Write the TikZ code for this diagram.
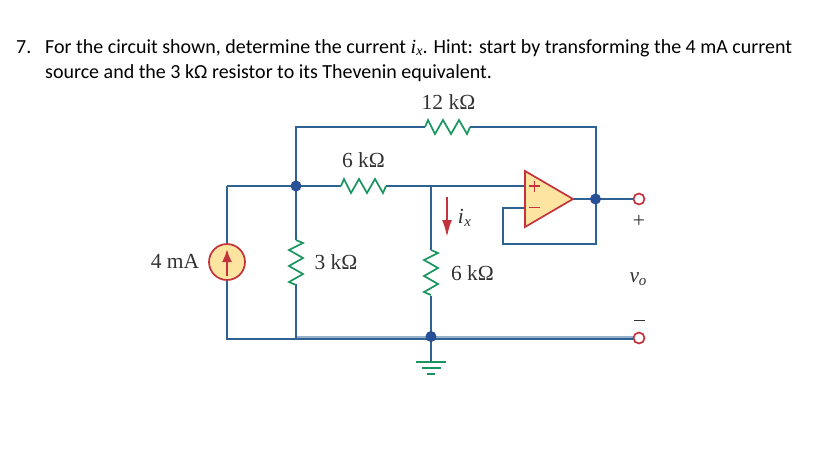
\documentclass[tikz,border=0pt]{standalone}
\usepackage{fontspec}
\setmainfont{Carlito}
\newfontfamily\lab{Liberation Serif}
\usetikzlibrary{arrows.meta}
\definecolor{wireblue}{RGB}{45,98,146}
\definecolor{dotblue}{RGB}{40,80,150}
\definecolor{resgreen}{RGB}{25,150,95}
\definecolor{redc}{RGB}{196,50,60}
\definecolor{fillc}{RGB}{253,228,160}
\definecolor{labc}{RGB}{50,50,50}
\newcommand{\hres}{-- ++(3,-7) -- ++(7,14) -- ++(8,-14) -- ++(8,14) -- ++(8,-14) -- ++(8,14) -- ++(3,-7)}
\newcommand{\vres}{-- ++(7,3) -- ++(-14,7) -- ++(14,8) -- ++(-14,8) -- ++(14,8) -- ++(-14,8) -- ++(7,3)}
\tikzset{
 wire/.style={draw=wireblue,line width=2pt,line join=miter},
 gwire/.style={draw=wireblue!50,line width=3.4pt},
 res/.style={draw=resgreen,line width=1.7pt,line join=miter},
 dot/.style={circle,fill=dotblue,draw=none,minimum size=11pt,inner sep=0},
 term/.style={circle,fill=white,draw=redc,line width=1.7pt,minimum size=11pt,inner sep=0},
 src/.style={circle,fill=fillc,draw=redc,line width=1.7pt,minimum size=36pt,inner sep=0},
 lbl/.style={font=\lab\fontsize{21.5}{24}\selectfont,text=labc,inner sep=0,anchor=center},
 txt/.style={font=\fontsize{20}{22}\selectfont,text=black,inner sep=0,anchor=base west},
 redarrow/.style={draw=redc,line width=2.2pt,-{Latex[length=17pt,width=10pt]}},
 gnd/.style={draw=resgreen,line width=2pt},
 oa/.style={draw=redc,fill=fillc,line width=1.7pt,line join=miter}
}
\begin{document}
\begin{tikzpicture}[x=1pt,y=-1pt]
\useasboundingbox (0,0) rectangle (826,456);
% text
\node[txt] (n7) at (16,53.5) {7.};
\node[txt] (l1) at (45,53.5) {For the circuit shown, determine the current {\lab\itshape i\kern0.2pt\raisebox{-2pt}{\fontsize{14}{14}\selectfont x}}. Hint: start by transforming the 4 mA current};
\node[txt] (l2) at (45,78.5) {source and the 3 k\symbol{"03A9} resistor to its Thevenin equivalent.};
% coordinates
\coordinate (tl) at (227,186); \coordinate (bl) at (227,338.5);
\coordinate (tt) at (296,127); \coordinate (tr) at (595.5,127);
\coordinate (b3) at (296,338.5);
\coordinate (r12a) at (425,127); \coordinate (r12b) at (470,127);
\coordinate (r6a) at (341,186); \coordinate (r6b) at (386,186);
\coordinate (r3a) at (296,240); \coordinate (r3b) at (296,284);
\coordinate (rxa) at (431,250); \coordinate (rxb) at (431,296);
\coordinate (jx) at (431,186);
\coordinate (ip) at (525,186); \coordinate (im) at (525,207.5);
\coordinate (fb1) at (503,207.5); \coordinate (fb2) at (503,244); \coordinate (fb3) at (595.5,244);
\coordinate (otip) at (573,199);
\coordinate (g1) at (431,361);
\coordinate (gr) at (634,337.5);
\coordinate (grb) at (296,337.5);
% wires
\draw[gwire] (grb) -- (gr);
\draw[wire] (tl) -- (bl) -- (b3) -- (r3b);
\draw[wire] (b3) -- (gr |- b3);
\draw[wire] (tl) -- (r6a);
\draw[wire] (r6b) -- (ip);
\draw[wire] (r3a) -- (296,186) -- (tt) -- (r12a);
\draw[wire] (r12b) -- (tr) -- (fb3) -- (fb2) -- (fb1) -- (im);
\draw[wire] (jx) -- (rxa);
\draw[wire] (rxb) -- (g1);
\draw[wire,line width=2.6pt] (otip) -- (639,199);
% resistors
\draw[res] (r12a) \hres;
\draw[res] (r6a) \hres;
\draw[res] (r3a) \vres;
\draw[res] (rxa) \vres;
% source
\node[src] (s) at (227,262) {};
\draw[draw=redc,line width=2.4pt,-{Latex[length=13pt,width=10pt]}] (227,276) -- (227,249);
% opamp
\draw[oa] (525,171) -- (573,199) -- (525,227) -- cycle;
\draw[draw=redc,line width=1.4pt] (529,186) -- (540,186) (534.5,180.5) -- (534.5,191.5);
\draw[draw=redc,line width=1.4pt] (529,207.5) -- (540,207.5);
% dots
\node[dot] (d1) at (296,186) {};
\node[dot] (d2) at (595.5,199) {};
\node[dot] (d3) at (431,336.5) {};
\node[term] (t1) at (639,199) {};
\node[term] (t2) at (639,338) {};
% ground
\draw[gnd] (416,361.5) -- (446,361.5);
\draw[gnd] (422,367.5) -- (441,367.5);
\draw[gnd] (427,374) -- (435,374);
% current arrow
\draw[redarrow] (447,197) -- (447,237);
% labels
\node[lbl] (a12) at (448.5,102) {12 k\symbol{"03A9}};
\node[lbl] (a6) at (363.5,160) {6 k\symbol{"03A9}};
\node[lbl] (a3) at (336,262.5) {3 k\symbol{"03A9}};
\node[lbl] (a6x) at (472.5,273.5) {6 k\symbol{"03A9}};
\node[lbl] (a4) at (175,261.5) {4 mA};
\node[lbl] (ix) at (464.5,218) {\itshape i\kern0.5pt\raisebox{-3pt}{\fontsize{15}{15}\selectfont x}};
\node[lbl] (vo) at (638,279) {\itshape v\kern-0.5pt\raisebox{-3pt}{\fontsize{15}{15}\selectfont o}};
\node[lbl] (pl) at (639,221) {+};
\draw[draw=labc,line width=1pt] (634,320.5) -- (645,320.5);
\end{tikzpicture}
\end{document}
